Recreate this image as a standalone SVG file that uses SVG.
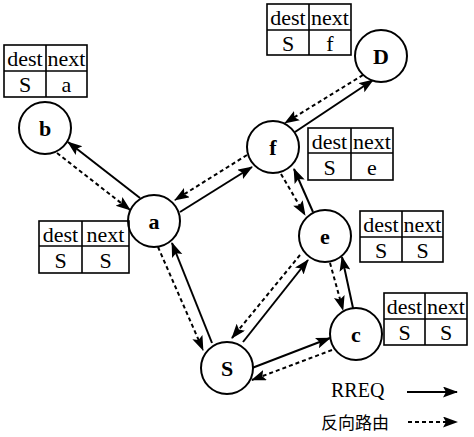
<svg xmlns="http://www.w3.org/2000/svg" width="474" height="437" viewBox="0 0 474 437">
<style>
.node circle{fill:#fff;stroke:#000;stroke-width:2}
.node text{font-family:"Liberation Serif","Times New Roman",serif;font-weight:bold;font-size:22px;text-anchor:middle}
.tbl rect,.tbl line{fill:none;stroke:#000;stroke-width:1.6}
.tbl text{font-family:"Liberation Serif","Times New Roman",serif;font-size:22px;text-anchor:middle}
.req{stroke:#000;stroke-width:2;fill:none;marker-end:url(#ah)}
.rev{stroke:#000;stroke-width:2;fill:none;stroke-dasharray:4 3;marker-end:url(#ah)}
.lg{font-family:"Liberation Serif","Times New Roman",serif;font-size:20px}
.lgc{font-family:"Noto Sans CJK SC",sans-serif;font-size:17px}
</style>
<defs>
<marker id="ah" markerUnits="userSpaceOnUse" markerWidth="16" markerHeight="12" refX="14" refY="5.5" orient="auto">
<path d="M0,0 L15,5.5 L0,11 L3,5.5 z" fill="#000"/>
</marker>
</defs>
<rect width="474" height="437" fill="#fff"/>
<g id="connectors">
<line class="req" x1="140" y1="198" x2="68" y2="142"/>
<line class="rev" x1="57" y1="153" x2="130" y2="210"/>
<line class="req" x1="180" y1="212" x2="252" y2="167"/>
<line class="rev" x1="247" y1="155" x2="175" y2="200"/>
<line class="req" x1="295" y1="132" x2="373" y2="80"/>
<line class="rev" x1="363" y1="75" x2="285" y2="123"/>
<line class="req" x1="212" y1="343" x2="172" y2="243"/>
<line class="rev" x1="158" y1="247" x2="203" y2="350"/>
<line class="req" x1="243" y1="342" x2="308" y2="260"/>
<line class="rev" x1="300" y1="255" x2="232" y2="338"/>
<line class="req" x1="252" y1="368" x2="330" y2="338"/>
<line class="rev" x1="332" y1="350" x2="252" y2="380"/>
<line class="req" x1="353" y1="308" x2="342" y2="257"/>
<line class="rev" x1="330" y1="263" x2="343" y2="310"/>
<line class="req" x1="313" y1="212" x2="294" y2="169"/>
<line class="rev" x1="281" y1="174" x2="305" y2="215"/>
</g>
<g id="b" class="node"><circle cx="45" cy="128" r="26"/><text x="45" y="136">b</text></g>
<g id="D" class="node"><circle cx="381" cy="56" r="26"/><text x="381" y="64">D</text></g>
<g id="f" class="node"><circle cx="273" cy="147" r="26"/><text x="273" y="155">f</text></g>
<g id="a" class="node"><circle cx="154" cy="221" r="26"/><text x="154" y="229">a</text></g>
<g id="e" class="node"><circle cx="325" cy="236" r="26"/><text x="325" y="244">e</text></g>
<g id="c" class="node"><circle cx="356" cy="334" r="26"/><text x="356" y="342">c</text></g>
<g id="S" class="node"><circle cx="227" cy="368" r="26"/><text x="227" y="376">S</text></g>
<g id="table-b" class="tbl">
<rect x="4" y="45" width="83" height="52"/><line x1="4" y1="71" x2="87" y2="71"/><line x1="46" y1="45" x2="46" y2="97"/>
<text x="25" y="66">dest</text><text x="66.5" y="66">next</text><text x="25" y="92">S</text><text x="66.5" y="92">a</text>
</g>
<g id="table-D" class="tbl">
<rect x="267" y="4" width="84" height="51"/><line x1="267" y1="30" x2="351" y2="30"/><line x1="309" y1="4" x2="309" y2="55"/>
<text x="288" y="25">dest</text><text x="330" y="25">next</text><text x="288" y="51">S</text><text x="330" y="51">f</text>
</g>
<g id="table-f" class="tbl">
<rect x="308" y="128" width="85" height="52"/><line x1="308" y1="153" x2="393" y2="153"/><line x1="351" y1="128" x2="351" y2="180"/>
<text x="329.5" y="149">dest</text><text x="372" y="149">next</text><text x="329.5" y="175">S</text><text x="372" y="175">e</text>
</g>
<g id="table-a" class="tbl">
<rect x="39" y="221" width="90" height="52"/><line x1="39" y1="246" x2="129" y2="246"/><line x1="82" y1="221" x2="82" y2="273"/>
<text x="60.5" y="242">dest</text><text x="105.5" y="242">next</text><text x="60.5" y="268">S</text><text x="105.5" y="268">S</text>
</g>
<g id="table-e" class="tbl">
<rect x="360" y="211" width="83" height="51"/><line x1="360" y1="237" x2="443" y2="237"/><line x1="402" y1="211" x2="402" y2="262"/>
<text x="381" y="232">dest</text><text x="422.5" y="232">next</text><text x="381" y="258">S</text><text x="422.5" y="258">S</text>
</g>
<g id="table-c" class="tbl">
<rect x="384" y="293" width="83" height="52"/><line x1="384" y1="319" x2="467" y2="319"/><line x1="425" y1="293" x2="425" y2="345"/>
<text x="404.5" y="314">dest</text><text x="446" y="314">next</text><text x="404.5" y="340">S</text><text x="446" y="340">S</text>
</g>
<g id="legend">
<text class="lg" x="331" y="397">RREQ</text>
<line class="req" x1="407" y1="392" x2="457" y2="392"/>
<text class="lgc" x="321" y="429">反向路由</text>
<line class="rev" x1="408" y1="422" x2="457" y2="422"/>
</g>
</svg>
